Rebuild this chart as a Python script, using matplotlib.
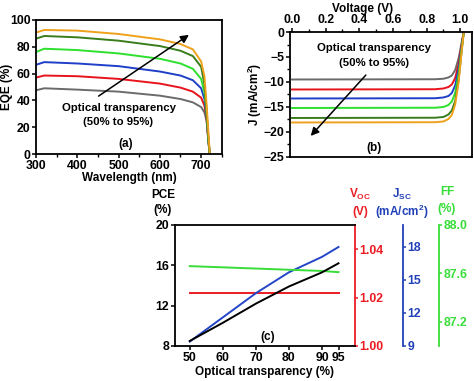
import numpy as np
import matplotlib
matplotlib.use("Agg")
import matplotlib.pyplot as plt

plt.rcParams['font.family'] = ['Liberation Sans', 'DejaVu Sans']
plt.rcParams['font.weight'] = 'bold'
plt.rcParams['mathtext.fontset'] = 'custom'
plt.rcParams['mathtext.rm'] = 'Liberation Sans:bold'
plt.rcParams['mathtext.bf'] = 'Liberation Sans:bold'
plt.rcParams['mathtext.default'] = 'bf'
plt.rcParams['axes.linewidth'] = 1.3

# ---- data: (a) EQE spectra ----
wavelength = [300, 320, 400, 500, 600, 650, 680, 700, 708, 713, 718, 721]
eqe_50 = [47.5, 49, 48, 46.5, 43.5, 41, 38.5, 35, 31, 25, 8, 0]
eqe_60 = [57, 58.5, 58, 56, 52.5, 49.5, 46.5, 42, 36, 27, 8, 0]
eqe_70 = [66.5, 68.5, 67.5, 65.5, 61.5, 58.5, 55, 49, 41, 29, 9, 0]
eqe_80 = [76, 78.5, 77.5, 75, 71, 67.5, 63.5, 56, 46, 31, 9, 0]
eqe_90 = [86, 88, 87, 84.5, 80.5, 77, 73, 65, 52, 33, 10, 0]
eqe_95 = [90.5, 92.5, 92, 89.5, 85.5, 82, 78, 69, 58, 38, 14, 0]

# ---- data: (b) J-V curves ----
voltage = [0.0, 0.85, 0.90, 0.93, 0.95, 0.97, 0.99, 1.00, 1.01, 1.02, 1.03]
j_50 = [-9.5, -9.45, -9.35, -9.1, -8.7, -7.6, -5.3, -3.6, -1.8, -0.2, 1.0]
j_60 = [-11.5, -11.45, -11.3, -11.0, -10.5, -9.2, -6.4, -4.3, -2.2, -0.2, 1.2]
j_70 = [-13.3, -13.25, -13.1, -12.8, -12.2, -10.7, -7.4, -5.0, -2.5, -0.3, 1.4]
j_80 = [-15.2, -15.15, -15.0, -14.6, -13.9, -12.2, -8.5, -5.7, -2.9, -0.3, 1.6]
j_90 = [-17.2, -17.15, -17.0, -16.5, -15.7, -13.8, -9.6, -6.5, -3.3, -0.3, 1.8]
j_95 = [-18.1, -18.05, -17.9, -17.4, -16.6, -14.5, -10.1, -6.8, -3.4, -0.4, 1.9]

# ---- data: (c) device parameters ----
transparency = [50, 60, 70, 80, 90, 95]
pce = [8.5, 10.3, 12.2, 13.9, 15.3, 16.2]
voc = [1.022, 1.022, 1.022, 1.022, 1.022, 1.022]
jsc = [9.4, 11.6, 13.8, 15.7, 17.1, 18.0]
ff = [87.66, 87.65, 87.64, 87.63, 87.62, 87.61]

series_colors = ['#6b6b6b', '#e8141c', '#1f3fc8', '#2ee02e', '#3a7d1c', '#eea21c']
c_black = 'black'
c_red = '#ec1c24'
c_blue = '#2140b8'
c_green = '#38dd38'

TICK_FS = 8.8
LABEL_FS = 8.5
NOTE_FS = 8.2

fig = plt.figure(figsize=(4.74, 3.81), dpi=100)

# ================= (a) =================
axa = fig.add_axes([0.0759, 0.5958, 0.392, 0.352])
for y, c in zip([eqe_50, eqe_60, eqe_70, eqe_80, eqe_90, eqe_95], series_colors):
    axa.plot(wavelength, y, color=c, lw=1.4)
axa.set_xlim(300, 750)
axa.set_ylim(0, 100)
axa.set_xticks([300, 400, 500, 600, 700])
axa.set_xticks([350, 450, 550, 650, 750], minor=True)
axa.set_yticks([0, 20, 40, 60, 80, 100])
axa.tick_params(labelsize=TICK_FS, length=3, width=1.1, pad=1)
axa.tick_params(which='minor', length=2, width=1)
axa.set_xlabel('Wavelength (nm)', fontsize=LABEL_FS, fontweight='bold', labelpad=0)
axa.set_ylabel('EQE (%)', fontsize=LABEL_FS, fontweight='bold', labelpad=0)
axa.yaxis.set_label_coords(-0.122, 0.5)
axa.annotate('', xy=(676, 90), xytext=(446, 42),
             arrowprops=dict(arrowstyle='-|>', color='black', lw=1.1, mutation_scale=12))
axa.text(500, 34.5, 'Optical transparency', ha='center', va='center', fontsize=NOTE_FS, fontweight='bold')
axa.text(500, 24, '(50% to 95%)', ha='center', va='center', fontsize=NOTE_FS, fontweight='bold')
axa.text(517, 7.5, '(a)', ha='center', va='center', fontsize=LABEL_FS, fontweight='bold')

# ================= (b) =================
axb = fig.add_axes([0.6118, 0.588, 0.384, 0.328])
for y, c in zip([j_50, j_60, j_70, j_80, j_90, j_95], series_colors):
    axb.plot(voltage, y, color=c, lw=1.4)
axb.set_xlim(-0.012, 1.07)
axb.set_ylim(-25, 0)
axb.xaxis.tick_top()
axb.xaxis.set_label_position('top')
axb.set_xticks([0.0, 0.2, 0.4, 0.6, 0.8, 1.0])
axb.set_xticklabels(['0.0', '0.2', '0.4', '0.6', '0.8', '1.0'])
axb.set_xticks(np.arange(0.1, 1.0, 0.2), minor=True)
axb.set_yticks([0, -5, -10, -15, -20, -25])
axb.set_yticks([-2.5, -7.5, -12.5, -17.5, -22.5], minor=True)
axb.tick_params(labelsize=TICK_FS, length=3, width=1.1, pad=1)
axb.tick_params(which='minor', length=2, width=1)
axb.set_xlabel('Voltage (V)', fontsize=LABEL_FS, fontweight='bold', labelpad=2)
axb.xaxis.set_label_coords(0.40, 1.16)
axb.set_ylabel('J (mA/cm$^2$)', fontsize=LABEL_FS, fontweight='bold', labelpad=0)
axb.annotate('', xy=(0.10, -21.2), xytext=(0.45, -8.2),
             arrowprops=dict(arrowstyle='-|>', color='black', lw=1.1, mutation_scale=12))
axb.text(0.49, -3.2, 'Optical transparency', ha='center', va='center', fontsize=NOTE_FS, fontweight='bold')
axb.text(0.49, -6.2, '(50% to 95%)', ha='center', va='center', fontsize=NOTE_FS, fontweight='bold')
axb.text(0.49, -23.2, '(b)', ha='center', va='center', fontsize=LABEL_FS, fontweight='bold')

# ================= (c) =================
axc = fig.add_axes([0.369, 0.0919, 0.380, 0.3176])
axc.plot(transparency, pce, color=c_black, lw=1.4)
axc.set_xlim(45.5, 100)
axc.set_ylim(8, 20)
axc.set_xticks(transparency)
axc.set_yticks([8, 12, 16, 20])
axc.tick_params(labelsize=TICK_FS, length=3, width=1.1, pad=1)
axc.spines['right'].set_visible(False)
axc.set_xlabel('Optical transparency (%)', fontsize=LABEL_FS, fontweight='bold', labelpad=2)
axc.text(-0.067, 1.25, 'PCE', transform=axc.transAxes, ha='center', va='center', fontsize=LABEL_FS)
axc.text(-0.067, 1.12, '(%)', transform=axc.transAxes, ha='center', va='center', fontsize=LABEL_FS)
axc.text(73.7, 8.9, '(c)', ha='center', va='center', fontsize=LABEL_FS, fontweight='bold')

ax_voc = axc.twinx()
ax_voc.plot(transparency, voc, color=c_red, lw=1.4)
ax_voc.set_ylim(1.00, 1.05)
ax_voc.set_yticks([1.00, 1.02, 1.04])
ax_voc.set_yticklabels(['1.00', '1.02', '1.04'])
for s in ['top', 'bottom', 'left']:
    ax_voc.spines[s].set_visible(False)
ax_voc.spines['right'].set_color(c_red)
ax_voc.tick_params(colors=c_red, labelsize=TICK_FS, length=2, width=1.1, pad=1)
ax_voc.text(1.028, 1.25, 'V$_{OC}$', transform=axc.transAxes, ha='center', va='center',
            fontsize=LABEL_FS, color=c_red)
ax_voc.text(1.028, 1.11, '(V)', transform=axc.transAxes, ha='center', va='center',
            fontsize=LABEL_FS, color=c_red)

ax_jsc = axc.twinx()
ax_jsc.plot(transparency, jsc, color='#2445c8', lw=1.4)
ax_jsc.set_ylim(9, 20)
ax_jsc.set_yticks([9, 12, 15, 18])
for s in ['top', 'bottom', 'left']:
    ax_jsc.spines[s].set_visible(False)
ax_jsc.spines['right'].set_position(('axes', 1.267))
ax_jsc.spines['right'].set_color(c_blue)
ax_jsc.tick_params(colors=c_blue, labelsize=TICK_FS, length=2, width=1.1, pad=1)
ax_jsc.text(1.26, 1.25, 'J$_{SC}$', transform=axc.transAxes, ha='center', va='center',
            fontsize=LABEL_FS, color=c_blue)
ax_jsc.text(1.26, 1.11, '(mA/cm$^2$)', transform=axc.transAxes, ha='center', va='center',
            fontsize=LABEL_FS, color=c_blue)

ax_ff = axc.twinx()
ax_ff.plot(transparency, ff, color=c_green, lw=1.4)
ax_ff.set_ylim(87.0, 88.0)
ax_ff.set_yticks([87.2, 87.6, 88.0])
ax_ff.set_yticklabels(['87.2', '87.6', '88.0'])
for s in ['top', 'bottom', 'left']:
    ax_ff.spines[s].set_visible(False)
ax_ff.spines['right'].set_position(('axes', 1.467))
ax_ff.spines['right'].set_color(c_green)
ax_ff.tick_params(colors=c_green, labelsize=TICK_FS, length=2, width=1.1, pad=1)
ax_ff.text(1.51, 1.27, 'FF', transform=axc.transAxes, ha='center', va='center',
           fontsize=LABEL_FS, color=c_green)
ax_ff.text(1.51, 1.13, '(%)', transform=axc.transAxes, ha='center', va='center',
           fontsize=LABEL_FS, color=c_green)

# keep the PCE line drawn on top of the twin axes
axc.set_zorder(ax_ff.get_zorder() + 1)
axc.patch.set_visible(False)

fig.savefig('out.png', dpi=100)
